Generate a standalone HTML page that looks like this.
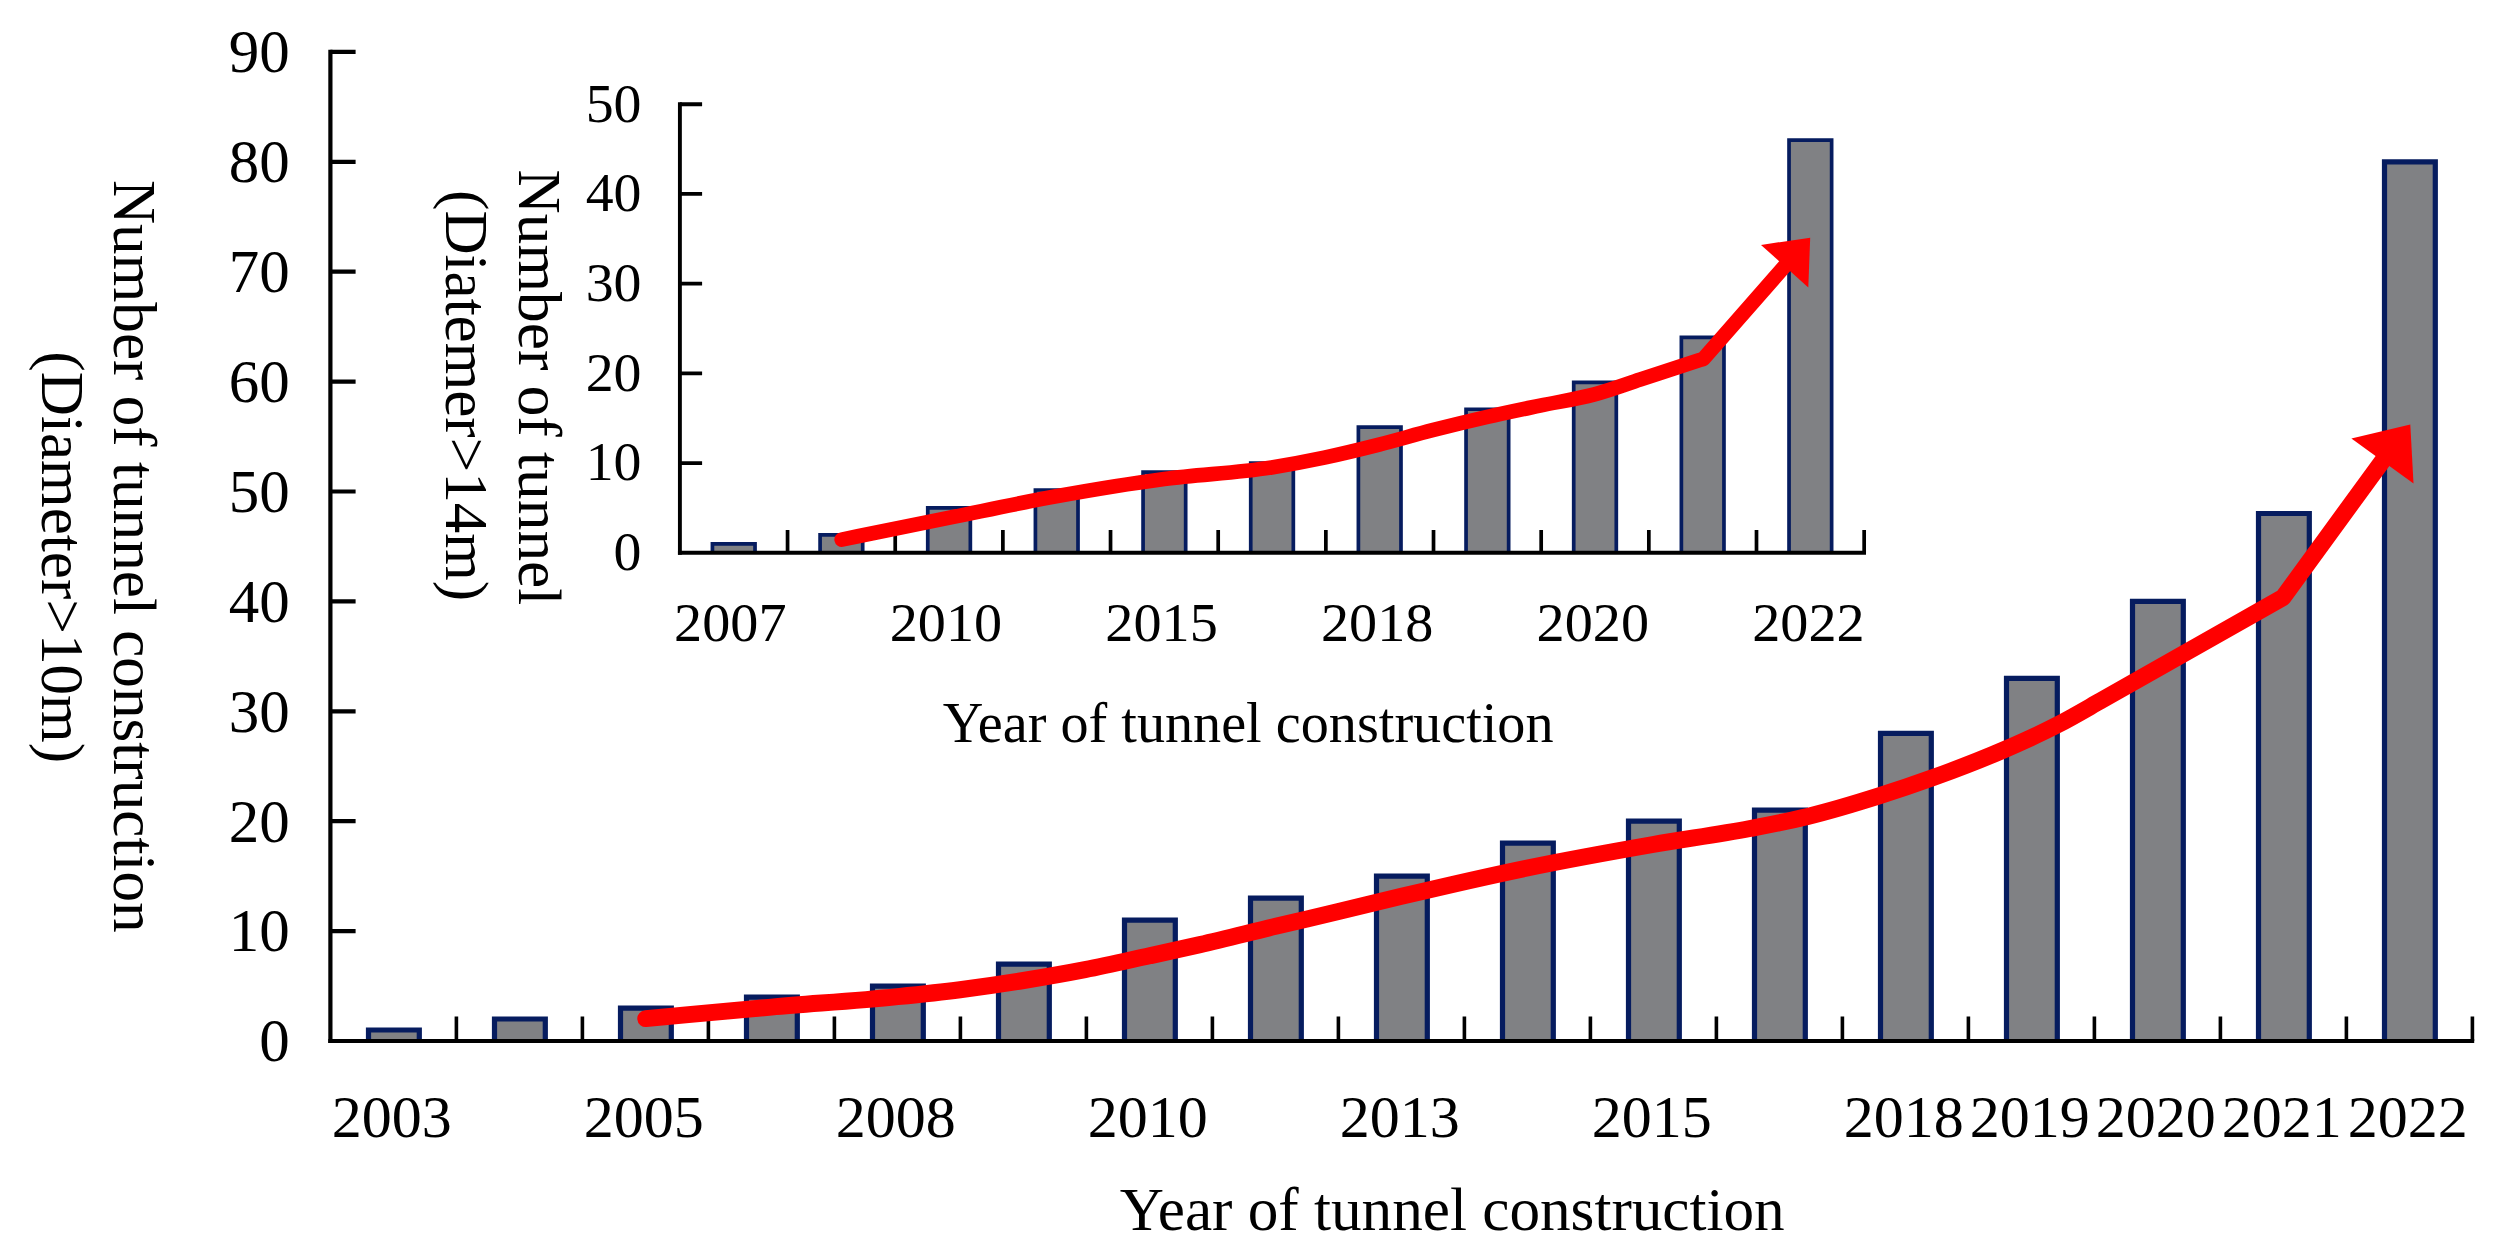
<!DOCTYPE html>
<html lang="en"><head><meta charset="utf-8"><title>Number of tunnel construction</title>
<style>html,body{margin:0;padding:0;background:#fff}svg{display:block}</style></head>
<body>
<svg width="2495" height="1248" viewBox="0 0 2495 1248" font-family='"Liberation Serif", "Times New Roman", serif' fill="#000">
<rect width="2495" height="1248" fill="#fff"/>
<g id="main">
<path d="M368.50 1041.00V1030.01H419.30V1041.00M494.50 1041.00V1019.02H545.30V1041.00M620.50 1041.00V1008.03H671.30V1041.00M746.50 1041.00V997.04H797.30V1041.00M872.50 1041.00V986.05H923.30V1041.00M998.50 1041.00V964.07H1049.30V1041.00M1124.50 1041.00V920.11H1175.30V1041.00M1250.50 1041.00V898.13H1301.30V1041.00M1376.50 1041.00V876.15H1427.30V1041.00M1502.50 1041.00V843.18H1553.30V1041.00M1628.50 1041.00V821.20H1679.30V1041.00M1754.50 1041.00V810.21H1805.30V1041.00M1880.50 1041.00V733.28H1931.30V1041.00M2006.50 1041.00V678.33H2057.30V1041.00M2132.50 1041.00V601.40H2183.30V1041.00M2258.50 1041.00V513.48H2309.30V1041.00M2384.50 1041.00V161.80H2435.30V1041.00" fill="#808184" stroke="#061c5f" stroke-width="5.2" stroke-linejoin="miter"/>
<path d="M330.40 49.80V1043.10" stroke="#000" stroke-width="4.2" fill="none"/>
<path d="M328.30 1041.00H2474.20" stroke="#000" stroke-width="4.2" fill="none"/>
<path d="M330.40 931.10h25.2M330.40 821.20h25.2M330.40 711.30h25.2M330.40 601.40h25.2M330.40 491.50h25.2M330.40 381.60h25.2M330.40 271.70h25.2M330.40 161.80h25.2M330.40 51.90h25.2" stroke="#000" stroke-width="4.2" fill="none"/>
<path d="M456.40 1041.00v-24.5M582.40 1041.00v-24.5M708.40 1041.00v-24.5M834.40 1041.00v-24.5M960.40 1041.00v-24.5M1086.40 1041.00v-24.5M1212.40 1041.00v-24.5M1338.40 1041.00v-24.5M1464.40 1041.00v-24.5M1590.40 1041.00v-24.5M1716.40 1041.00v-24.5M1842.40 1041.00v-24.5M1968.40 1041.00v-24.5M2094.40 1041.00v-24.5M2220.40 1041.00v-24.5M2346.40 1041.00v-24.5M2472.40 1041.00v-24.5" stroke="#000" stroke-width="3.6" fill="none"/>
<text transform="translate(289.70 1061.30)" font-size="61" text-anchor="end">0</text>
<text transform="translate(289.70 951.40)" font-size="61" text-anchor="end">10</text>
<text transform="translate(289.70 841.50)" font-size="61" text-anchor="end">20</text>
<text transform="translate(289.70 731.60)" font-size="61" text-anchor="end">30</text>
<text transform="translate(289.70 621.70)" font-size="61" text-anchor="end">40</text>
<text transform="translate(289.70 511.80)" font-size="61" text-anchor="end">50</text>
<text transform="translate(289.70 401.90)" font-size="61" text-anchor="end">60</text>
<text transform="translate(289.70 292.00)" font-size="61" text-anchor="end">70</text>
<text transform="translate(289.70 182.10)" font-size="61" text-anchor="end">80</text>
<text transform="translate(289.70 72.20)" font-size="61" text-anchor="end">90</text>
<text transform="translate(391.70 1136.70)" font-size="60" text-anchor="middle">2003</text>
<text transform="translate(643.70 1136.70)" font-size="60" text-anchor="middle">2005</text>
<text transform="translate(895.70 1136.70)" font-size="60" text-anchor="middle">2008</text>
<text transform="translate(1147.70 1136.70)" font-size="60" text-anchor="middle">2010</text>
<text transform="translate(1399.70 1136.70)" font-size="60" text-anchor="middle">2013</text>
<text transform="translate(1651.70 1136.70)" font-size="60" text-anchor="middle">2015</text>
<text transform="translate(1903.70 1136.70)" font-size="60" text-anchor="middle">2018</text>
<text transform="translate(2029.70 1136.70)" font-size="60" text-anchor="middle">2019</text>
<text transform="translate(2155.70 1136.70)" font-size="60" text-anchor="middle">2020</text>
<text transform="translate(2281.70 1136.70)" font-size="60" text-anchor="middle">2021</text>
<text transform="translate(2407.70 1136.70)" font-size="60" text-anchor="middle">2022</text>
<text transform="translate(1452.20 1230.30)" font-size="61.2" text-anchor="middle">Year of tunnel construction</text>
<text transform="translate(113.80 556.30) rotate(90)" font-size="61.2" text-anchor="middle">Number of tunnel construction</text>
<text transform="translate(41.90 557.20) rotate(90)" font-size="61.2" text-anchor="middle">(Diameter&gt;10m)</text>
</g>
<g id="inset">
<path d="M712.43 552.80V543.83H755.03V552.80M820.09 552.80V534.86H862.69V552.80M927.75 552.80V507.94H970.35V552.80M1035.41 552.80V490.00H1078.01V552.80M1143.07 552.80V472.05H1185.67V552.80M1250.73 552.80V463.08H1293.33V552.80M1358.39 552.80V427.19H1400.99V552.80M1466.05 552.80V409.25H1508.65V552.80M1573.71 552.80V382.33H1616.31V552.80M1681.37 552.80V337.47H1723.97V552.80M1789.03 552.80V140.09H1831.63V552.80" fill="#808184" stroke="#061c5f" stroke-width="3.7" stroke-linejoin="miter"/>
<path d="M679.90 102.25V554.75" stroke="#000" stroke-width="3.9" fill="none"/>
<path d="M677.95 552.80H1866.01" stroke="#000" stroke-width="3.9" fill="none"/>
<path d="M679.90 463.08h22.2M679.90 373.36h22.2M679.90 283.64h22.2M679.90 193.92h22.2M679.90 104.20h22.2" stroke="#000" stroke-width="3.9" fill="none"/>
<path d="M787.56 552.80v-22.8M895.22 552.80v-22.8M1002.88 552.80v-22.8M1110.54 552.80v-22.8M1218.20 552.80v-22.8M1325.86 552.80v-22.8M1433.52 552.80v-22.8M1541.18 552.80v-22.8M1648.84 552.80v-22.8M1756.50 552.80v-22.8M1864.16 552.80v-22.8" stroke="#000" stroke-width="3.7" fill="none"/>
<text transform="translate(641.50 570.20) scale(1.03 1)" font-size="54.2" text-anchor="end">0</text>
<text transform="translate(641.50 480.48) scale(1.03 1)" font-size="54.2" text-anchor="end">10</text>
<text transform="translate(641.50 390.76) scale(1.03 1)" font-size="54.2" text-anchor="end">20</text>
<text transform="translate(641.50 301.04) scale(1.03 1)" font-size="54.2" text-anchor="end">30</text>
<text transform="translate(641.50 211.32) scale(1.03 1)" font-size="54.2" text-anchor="end">40</text>
<text transform="translate(641.50 121.60) scale(1.03 1)" font-size="54.2" text-anchor="end">50</text>
<text transform="translate(730.30 640.60) scale(1.037 1)" font-size="54.2" text-anchor="middle">2007</text>
<text transform="translate(945.92 640.60) scale(1.037 1)" font-size="54.2" text-anchor="middle">2010</text>
<text transform="translate(1161.54 640.60) scale(1.037 1)" font-size="54.2" text-anchor="middle">2015</text>
<text transform="translate(1377.16 640.60) scale(1.037 1)" font-size="54.2" text-anchor="middle">2018</text>
<text transform="translate(1592.78 640.60) scale(1.037 1)" font-size="54.2" text-anchor="middle">2020</text>
<text transform="translate(1808.40 640.60) scale(1.037 1)" font-size="54.2" text-anchor="middle">2022</text>
<text transform="translate(1248.20 741.50)" font-size="56.2" text-anchor="middle">Year of tunnel construction</text>
<text transform="translate(518.60 387.40) rotate(90)" font-size="61.3" text-anchor="middle">Number of tunnel</text>
<text transform="translate(446.40 395.60) rotate(90)" font-size="61.1" text-anchor="middle">(Diatemer&gt;14m)</text>
</g>
<path d="M841.70 539.60C877.27 532.37 912.83 525.08 948.40 517.90C984.33 510.65 1020.27 502.78 1056.20 496.30C1092.20 489.81 1128.20 483.82 1164.20 479.00C1200.00 474.20 1235.80 473.14 1271.60 467.40C1289.17 464.58 1306.73 461.31 1324.30 457.60C1342.57 453.74 1360.83 449.23 1379.10 444.60C1396.90 440.08 1414.70 434.76 1432.50 430.20C1450.80 425.51 1469.10 421.08 1487.40 416.90C1504.93 412.90 1522.47 409.29 1540.00 405.60C1558.17 401.78 1576.33 399.30 1594.50 394.40C1609.73 390.29 1624.97 384.60 1640.20 379.60C1653.43 375.25 1666.67 370.69 1679.90 366.40C1687.73 363.86 1695.57 361.40 1703.40 358.90L1784.7 266.2" fill="none" stroke="#ff0000" stroke-width="14.7" stroke-linejoin="round" stroke-linecap="round"/>
<polygon points="1761,244.9 1810.2,237.7 1808.3,287.4" fill="#ff0000"/>
<path d="M645.80 1018.60C687.70 1014.77 729.60 1010.76 771.50 1007.10C813.60 1003.42 855.70 1000.88 897.80 996.60C918.53 994.49 939.27 992.35 960.00 989.70C981.17 987.00 1002.33 983.90 1023.50 980.50C1044.00 977.21 1064.50 973.70 1085.00 969.70C1106.50 965.51 1128.00 960.51 1149.50 955.80C1166.33 952.11 1183.17 948.47 1200.00 944.60C1225.23 938.80 1250.47 932.32 1275.70 926.30C1296.63 921.31 1317.57 916.49 1338.50 911.50C1359.50 906.49 1380.50 901.25 1401.50 896.30C1443.43 886.41 1485.37 876.63 1527.30 868.00C1569.23 859.37 1611.17 851.82 1653.10 844.50C1685.40 838.86 1717.70 834.70 1750.00 828.50C1769.23 824.81 1788.47 821.19 1807.70 816.50C1831.73 810.64 1855.77 803.33 1879.80 795.70C1897.60 790.05 1915.40 784.04 1933.20 777.60C1956.73 769.08 1980.27 760.12 2003.80 749.90C2022.07 741.96 2040.33 733.78 2058.60 724.30C2072.40 717.14 2086.20 709.02 2100.00 701.20L2283 597.5L2382.5 460.9" fill="none" stroke="#ff0000" stroke-width="17" stroke-linejoin="round" stroke-linecap="round"/>
<polygon points="2351.4,438.4 2410.3,424.5 2413.5,483.4" fill="#ff0000"/>
</svg>
</body></html>
